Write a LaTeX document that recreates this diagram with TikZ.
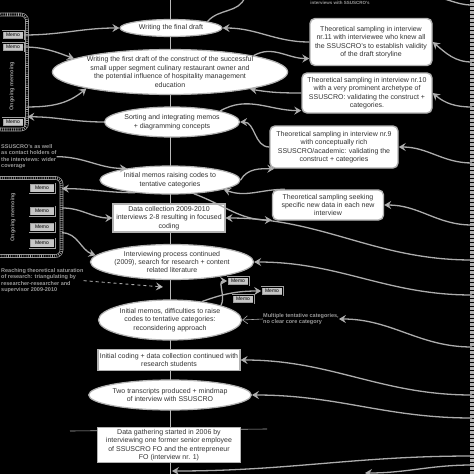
\documentclass[tikz,border=0pt]{standalone}
\usepackage{fontspec}
\setmainfont{Liberation Sans}
\usetikzlibrary{shapes.geometric,arrows.meta}

\begin{document}
\begin{tikzpicture}[x=1pt,y=-1pt,
    stage/.style={ellipse, draw=gray!60, line width=1.2pt, fill=white, text=black!80, align=center, inner sep=0pt, font=\fontsize{7}{8.4}\selectfont},
    stagebox/.style={rectangle, draw=gray!60, line width=1.2pt, fill=white, text=black!80, align=center, inner sep=1.5pt, font=\fontsize{7}{8.4}\selectfont},
    sample/.style={rectangle, rounded corners=5pt, draw=gray!60, line width=1.4pt, fill=white, text=black!80, align=center, inner sep=2pt, font=\fontsize{7}{8.4}\selectfont},
    memo/.style={rectangle, draw=gray!75, line width=0.7pt, double=black, double distance=0.6pt, fill=gray!45, text=black, inner sep=0pt, minimum width=21pt, minimum height=8pt, font=\fontsize{5}{5}\selectfont},
    grp/.style={rectangle, rounded corners=6pt, draw=gray!70, line width=0.6pt, double=black, double distance=2.4pt, postaction={draw=gray!70, line width=3.2pt, dash pattern=on 0.6pt off 1.6pt}},
    note/.style={text=gray!80, align=left, inner sep=0pt, font=\bfseries\fontsize{5.5}{6.6}\selectfont},
    flow/.style={draw=gray!65, line width=1.3pt, -{Stealth[length=7pt,width=8pt,inset=2.5pt,fill=gray!30]}},
    plain/.style={draw=gray!65, line width=1.3pt}
  ]
  \fill[black] (0,0) rectangle (474,474);
  \useasboundingbox (0,0) rectangle (474,474);

  % right hand strip
  \fill[gray!60] (470,0) rectangle (474,474);
  \foreach \y in {2,6,...,474}
    \draw[black, line width=0.4pt] (470,\y) -- (474,\y);

  % spine of the process
  \coordinate (spinetop) at (170,0);
  \coordinate (spinebot) at (170,474);
  \draw[gray!55, line width=0.7pt] (spinetop) -- (spinebot);
  \draw[gray!65, line width=0.6pt] (70,431) -- (267,429);

  % stages
  \node[stage, minimum width=102, minimum height=17] (fin) at (171,28) {Writing the final draft};
  \node[stage, minimum width=227, minimum height=45] (first) at (170,72) {Writing the first draft of the construct of the successful\\ small upper segment culinary restaurant owner and\\ the potential influence of hospitality management\\ education};
  \node[stage, minimum width=135, minimum height=30] (sort) at (172,122) {Sorting and integrating memos\\ + diagramming concepts};
  \node[stage, minimum width=140, minimum height=28] (initmemo) at (170,180) {Initial memos raising codes to\\ tentative categories};
  \node[stagebox, minimum width=112, minimum height=28] (datacoll) at (169,218) {Data collection 2009-2010\\ interviews 2-8 resulting in focused\\ coding};
  \node[stage, minimum width=135, minimum height=35] (interv) at (172,262) {Interviewing process continued\\ (2009), search for research + content\\ related literature};
  \node[stage, minimum width=143, minimum height=40] (difficult) at (170,320) {Initial memos, difficulties to raise\\ codes to tentative categories:\\ reconsidering approach};
  \node[stagebox, minimum width=142, minimum height=21] (initcode) at (169,360) {Initial coding + data collection continued with\\ research students};
  \node[stage, minimum width=140, minimum height=30] (transcr) at (170,395) {Two transcripts produced + mindmap\\ of interview with SSUSCRO};
  \node[stagebox, minimum width=143, minimum height=34] (start) at (169,445) {Data gathering started in 2006 by\\ interviewing one former senior employee\\ of SSUSCRO FO and the entrepreneur\\ FO (interview nr. 1)};

  % theoretical sampling
  \node[sample, minimum width=122, minimum height=47] (tsa) at (371,42) {Theoretical sampling in interview\\ nr.11 with interviewee who knew all\\ the SSUSCRO's to establish validity\\ of the draft storyline};
  \node[sample, minimum width=130, minimum height=40] (tsb) at (367,93) {Theoretical sampling in interview nr.10\\ with a very prominent archetype of\\ SSUSCRO: validating the construct +\\ categories.};
  \node[sample, minimum width=128, minimum height=42] (tsc) at (334,147) {Theoretical sampling in interview nr.9\\ with conceptually rich\\ SSUSCRO/academic: validating the\\ construct + categories};
  \node[sample, minimum width=111, minimum height=30] (tsd) at (328,205) {Theoretical sampling seeking\\ specific new data in each new\\ interview};

  % memo groups
  \node[grp, minimum width=32, minimum height=115] (grpA) at (11,72) {};
  \node[note, rotate=90] (grpAlab) at (12,86) {Ongoing memoing};
  \node[memo] (memoa) at (13,35) {Memo};
  \node[memo] (memob) at (13,47) {Memo};
  \node[memo] (memoc) at (13,122) {Memo};
  \node[grp, minimum width=67, minimum height=78] (grpB) at (28,217) {};
  \node[note, rotate=90] (grpBlab) at (13,217) {Ongoing memoing};
  \node[memo, minimum width=25, minimum height=9] (memod) at (42,188) {Memo};
  \node[memo, minimum width=25, minimum height=9] (memoe) at (42,211) {Memo};
  \node[memo, minimum width=25, minimum height=9] (memof) at (42,227) {Memo};
  \node[memo, minimum width=25, minimum height=9] (memog) at (42,243) {Memo};
  \node[memo] (memoh) at (238,281) {Memo};
  \node[memo] (memoi) at (272,291) {Memo};
  \node[memo] (memoj) at (243,299) {Memo};

  % side notes
  \node[note, anchor=north west] (notea) at (1,144) {SSUSCRO's as well\\ as contact holders of\\ the interviews: wider\\ coverage};
  \node[note, anchor=north west] (noteb) at (1,268) {Reaching theoretical saturation\\ of research: triangulating by\\ researcher-researcher and\\ supervisor 2009-2010};
  \node[note, anchor=west] (notec) at (263,319) {Multiple tentative categories,\\ no clear core category};
  \node[note, anchor=north, font=\bfseries\fontsize{4.5}{5}\selectfont] (noted) at (340,1) {interviews with SSUSCRO's};

  % right edge ends
  \coordinate (rtop) at (472,5);
  \coordinate (ra) at (472,62);
  \coordinate (rb) at (472,107);
  \coordinate (rc) at (472,163);
  \coordinate (rd) at (472,225);
  \coordinate (re) at (472,260);
  \coordinate (rf) at (472,295);
  \coordinate (rg) at (472,347);
  \coordinate (rh) at (472,395);
  \coordinate (ri) at (472,418);
  \coordinate (rj) at (472,456);
  \coordinate (rk) at (472,465);
  \coordinate (otop) at (430,-3);
  \coordinate (ofin) at (245,-3);
  \coordinate (obota) at (172,471);
  \coordinate (obotb) at (365,473);
  \coordinate (spine) at (163,287);

  % connectors from the right
  \draw[plain] (rtop) to[out=180,in=0] (otop);
  \draw[plain] (fin.north east) to[out=50,in=-110] (ofin);
  \draw[flow] (ra) to[out=180,in=-40] (tsa.east);
  \draw[flow] (rb) to[out=180,in=-40] (tsb.east);
  \draw[flow] (rc) to[out=180,in=0] (tsc.east);
  \draw[flow] (rd) to[out=180,in=0] (tsd.east);
  \draw[flow] (re) to[out=180,in=0] (datacoll.east);
  \draw[flow] (rf) to[out=180,in=0] (interv.east);
  \draw[flow] (rg) to[out=180,in=0] (notec.east);
  \draw[flow] (rh) to[out=180,in=0] (initcode.east);
  \draw[flow] (ri) to[out=180,in=0] (transcr.east);
  \draw[flow] (rj) to[out=180,in=0] (obota);
  \draw[flow] (rk) to[out=180,in=0] (obotb);

  % theoretical sampling loops
  \draw[flow] (tsa.west) to[out=180,in=0] (fin.east);
  \draw[flow] (first.north east) to[out=30,in=180] (tsa.195);
  \draw[flow] (tsb.west) to[out=180,in=-10] (first.-12);
  \draw[flow] (sort.north east) to[out=30,in=180] (tsb.195);
  \draw[flow] (tsc.west) to[out=180,in=0] (sort.east);
  \draw[flow] (initmemo.east) to[out=60,in=180] (tsc.200);
  \draw[flow] (tsd.160) to[out=180,in=-20] (initmemo.-10);
  \draw[flow] (initmemo.-30) to[out=-20,in=180] (tsd.195);

  % memos
  \draw[flow] (memoa.east) to[out=0,in=180] (fin.west);
  \draw[flow] (memob.east) to[out=0,in=160] (first.172);
  \draw[flow] (grpA.-65) to[out=0,in=220] (first.south west);
  \draw[flow] (sort.west) to[out=180,in=0] (grpA.-70);
  \draw[flow] (notea.east) to[out=0,in=180] (initmemo.165);
  \draw[flow] (initmemo.200) to[out=180,in=0] (grpB.40);
  \draw[flow] (grpB.15) to[out=0,in=180] (datacoll.west);
  \draw[flow] (grpB.-25) to[out=0,in=160] (interv.175);
  \draw[flow, dashed, line width=0.9pt] (noteb.east) -- (spine);
  \draw[flow] (difficult.north east) to[out=60,in=180] (memoh.west);
  \draw[flow] (difficult.30) to[out=20,in=180] (memoi.west);
  \draw[flow, line width=0.6pt, -{Straight Barb[length=5pt,width=8pt]}] (notec.west) -- (difficult.east);
\end{tikzpicture}
\end{document}
